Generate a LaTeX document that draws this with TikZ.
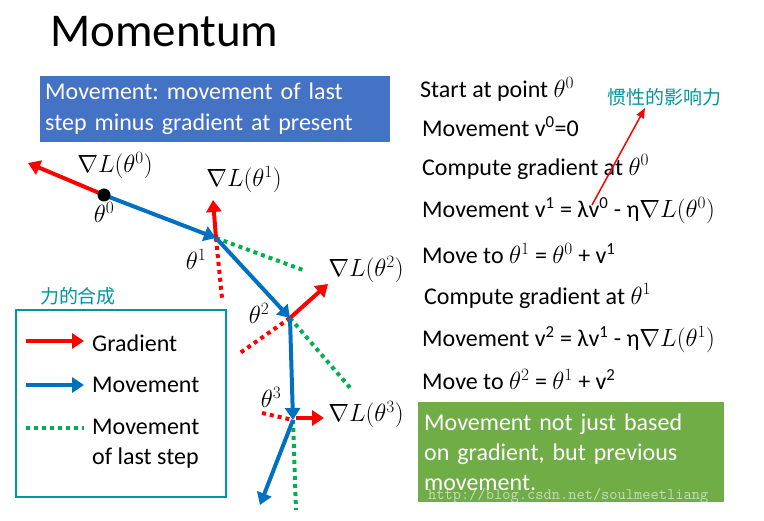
\documentclass[tikz,border=0pt]{standalone}
\usepackage{fontspec}
\setmainfont{Carlito}
\newfontfamily\cjk{Noto Sans CJK SC}
\usetikzlibrary{arrows.meta}
\definecolor{gred}{RGB}{255,0,0}
\definecolor{mblue}{RGB}{0,112,192}
\definecolor{dgreen}{RGB}{0,176,80}
\definecolor{teal2}{RGB}{0,150,160}
\definecolor{boxblue}{RGB}{68,114,196}
\definecolor{boxgreen}{RGB}{112,173,71}
\frenchspacing
\begin{document}
\begin{tikzpicture}[x=1pt,y=-1pt,
  grad/.style={gred,line width=4pt,-{Triangle[length=12pt,width=15pt]}},
  mov/.style={mblue,line width=4pt,-{Triangle[length=12pt,width=15pt]}},
  lastg/.style={dgreen,line width=4pt,dash pattern=on 4pt off 4pt},
  lastr/.style={gred,line width=4pt,dash pattern=on 4pt off 4pt},
  lab/.style={font=\fontsize{23}{26}\selectfont},
  txt/.style={font=\fontsize{24}{28}\selectfont,anchor=west,inner sep=0pt}]
\useasboundingbox (0,0) rectangle (764,521);
\node[anchor=west,inner sep=0pt,font=\fontsize{47}{50}\selectfont] (title) at (50,32) {Momentum};
% blue box
\node[fill=boxblue,text=white,anchor=north west,minimum width=350pt,minimum height=66pt,align=left,text width=340pt,font=\fontsize{24}{31}\selectfont,inner sep=5pt] (bb) at (40,76) {Movement: movement of last\\step minus gradient at present};
% points
\coordinate (t0) at (104,195);
\coordinate (t1) at (216,238);
\coordinate (t2) at (290,318);
\coordinate (t3) at (293,420);
\coordinate (g0) at (28,163);
\coordinate (g1) at (213,200);
\coordinate (g2) at (328,284);
\coordinate (g3s) at (296,418);
\coordinate (g3) at (324,418);
\coordinate (l1) at (303,270);
\coordinate (r1) at (222,298);
\coordinate (r2) at (240,353);
\coordinate (l2) at (352,390);
\coordinate (r3) at (262,413);
\coordinate (l3) at (296,510);
\coordinate (m4) at (260,505);
\draw[lastg] (t1) -- (l1);
\draw[lastr] (t1) -- (r1);
\draw[lastr] (t2) -- (r2);
\draw[lastg] (t2) -- (l2);
\draw[lastr] (r3) -- (t3);
\draw[lastg] (t3) -- (l3);
\draw[grad] (t0) -- (g0);
\draw[grad] (t1) -- (g1);
\draw[grad] (t2) -- (g2);
\draw[grad] (g3s) -- (g3);
\draw[mov] (t0) -- (t1);
\draw[mov] (t1) -- (t2);
\draw[mov] (t2) -- (t3);
\draw[mov] (t3) -- (m4);
\fill (t0) circle (6.5pt);
\node[lab] (n0) at (115,166) {$\nabla L(\theta^0)$};
\node[lab] (th0) at (104,212) {$\theta^0$};
\node[lab] (n1) at (244,180) {$\nabla L(\theta^1)$};
\node[lab] (th1) at (196,259) {$\theta^1$};
\node[lab] (n2) at (366,270) {$\nabla L(\theta^2)$};
\node[lab] (th2) at (259,313) {$\theta^2$};
\node[lab] (th3) at (271,397) {$\theta^3$};
\node[lab] (n3) at (366,415) {$\nabla L(\theta^3)$};
% legend
\node[text=teal2,font=\cjk\fontsize{19}{22}\selectfont,inner sep=0pt] (hc) at (78,296) {力的合成};
\draw[teal2,line width=1.5pt] (16,310) rectangle (226,497);
\coordinate (a1) at (26,341); \coordinate (b1) at (84,341);
\coordinate (a2) at (26,385); \coordinate (b2) at (84,385);
\coordinate (a3) at (26,428); \coordinate (b3) at (84,428);
\draw[grad] (a1) -- (b1);
\draw[mov] (a2) -- (b2);
\draw[lastg] (a3) -- (b3);
\node[txt] (lg1) at (92,343) {Gradient};
\node[txt] (lg2) at (92,385) {Movement};
\node[txt] (lg3) at (92,427) {Movement};
\node[txt] (lg4) at (92,458) {of last step};
% right text
\node[txt] (s1) at (420,89) {Start at point $\theta^0$};
\node[txt] (s2) at (422,127) {Movement v\textsuperscript{0}=0};
\node[txt] (s3) at (422,167) {Compute gradient at $\theta^0$};
\node[txt] (s4) at (422,211) {Movement v\textsuperscript{1} = λv\textsuperscript{0} - η$\nabla L(\theta^0)$};
\node[txt] (s5) at (422,254) {Move to $\theta^1$ = $\theta^0$ + v\textsuperscript{1}};
\node[txt] (s6) at (424,296) {Compute gradient at $\theta^1$};
\node[txt] (s7) at (422,340) {Movement v\textsuperscript{2} = λv\textsuperscript{1} - η$\nabla L(\theta^1)$};
\node[txt] (s8) at (422,380) {Move to $\theta^2$ = $\theta^1$ + v\textsuperscript{2}};
% green box
\node[fill=boxgreen,text=white,anchor=north west,minimum width=304pt,minimum height=100pt,align=left,text width=294pt,font=\fontsize{24}{30}\selectfont,inner sep=6pt] (gb) at (418,402) {Movement not just based\\on gradient, but previous\\movement.};
\node[text=white,opacity=0.6,font=\ttfamily\fontsize{16}{18}\selectfont,anchor=west,inner sep=0pt] (wm) at (428,496) {http://blog.csdn.net/soulmeetliang};
% annotation
\node[text=teal2,font=\cjk\fontsize{19}{22}\selectfont,inner sep=0pt] (gx) at (664,97) {惯性的影响力};
\coordinate (ar0) at (592,205);
\coordinate (ar1) at (645,108);
\draw[gred,line width=1.5pt,-{Triangle[length=10pt,width=8pt]}] (ar0) -- (ar1);
\end{tikzpicture}
\end{document}
